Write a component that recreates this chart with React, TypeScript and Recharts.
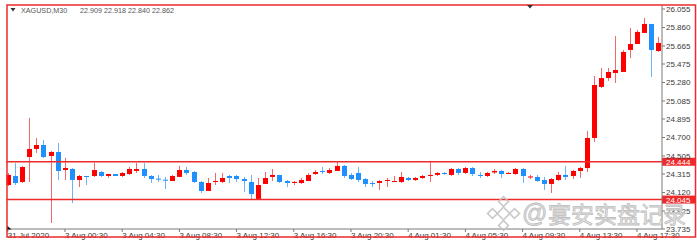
import { ComposedChart, Bar, XAxis, YAxis, ReferenceLine } from 'recharts'

// XAGUSD M30 candles, 31 Jul 2020 close -> 4 Aug 17:30
const OPEN = [
  24.199, 24.294, 24.231, 24.494, 24.579, 24.621, 24.505, 24.547, 24.357, 24.368,
  24.252, 24.294, 24.294, 24.336, 24.294, 24.315, 24.294, 24.315, 24.347, 24.368,
  24.294, 24.266, 24.255, 24.241, 24.284, 24.357, 24.336, 24.231, 24.136, 24.231,
  24.231, 24.294, 24.294, 24.262, 24.231, 24.052, 24.210, 24.284, 24.305, 24.241,
  24.226, 24.220, 24.241, 24.315, 24.347, 24.326, 24.347, 24.400, 24.305, 24.326,
  24.262, 24.220, 24.220, 24.241, 24.236, 24.231, 24.273, 24.252, 24.273, 24.294,
  24.305, 24.326, 24.305, 24.368, 24.326, 24.378, 24.305, 24.294, 24.331, 24.347,
  24.321, 24.315, 24.368, 24.284, 24.284, 24.252, 24.210, 24.252, 24.305, 24.294,
  24.347, 24.378, 24.695, 25.233, 25.327, 25.380, 25.391, 25.623, 25.686, 25.802,
  25.897, 25.612,
]
const HIGH = [
  24.326, 24.431, 24.400, 24.906, 24.695, 24.674, 24.558, 24.642, 24.484, 24.378,
  24.305, 24.294, 24.431, 24.347, 24.315, 24.315, 24.336, 24.389, 24.431, 24.431,
  24.305, 24.305, 24.284, 24.305, 24.400, 24.389, 24.347, 24.241, 24.273, 24.326,
  24.326, 24.305, 24.305, 24.284, 24.305, 24.273, 24.336, 24.368, 24.305, 24.252,
  24.241, 24.273, 24.326, 24.357, 24.389, 24.378, 24.452, 24.410, 24.326, 24.389,
  24.273, 24.241, 24.252, 24.273, 24.294, 24.336, 24.284, 24.284, 24.305, 24.442,
  24.336, 24.336, 24.378, 24.378, 24.389, 24.389, 24.336, 24.336, 24.368, 24.357,
  24.336, 24.378, 24.378, 24.305, 24.305, 24.284, 24.273, 24.336, 24.400, 24.357,
  24.389, 24.769, 25.349, 25.433, 25.433, 25.770, 25.623, 25.855, 25.834, 25.960,
  25.897, 25.760,
]
const LOW = [
  24.189, 24.199, 24.220, 24.231, 24.537, 24.484, 23.798, 24.252, 24.252, 24.009,
  24.178, 24.199, 24.284, 24.284, 24.273, 24.294, 24.284, 24.305, 24.326, 24.273,
  24.220, 24.231, 24.157, 24.241, 24.284, 24.305, 24.220, 24.115, 24.136, 24.199,
  24.220, 24.220, 24.231, 24.125, 24.041, 24.041, 24.210, 24.241, 24.220, 24.178,
  24.199, 24.210, 24.241, 24.305, 24.315, 24.315, 24.347, 24.273, 24.252, 24.231,
  24.178, 24.178, 24.146, 24.178, 24.231, 24.220, 24.241, 24.241, 24.262, 24.231,
  24.294, 24.305, 24.294, 24.305, 24.315, 24.294, 24.273, 24.284, 24.315, 24.273,
  24.315, 24.305, 24.220, 24.262, 24.231, 24.146, 24.115, 24.241, 24.252, 24.262,
  24.273, 24.336, 24.653, 25.222, 25.296, 25.275, 25.391, 25.538, 25.686, 25.802,
  25.338, 25.602,
]
const CLOSE = [
  24.305, 24.220, 24.389, 24.579, 24.621, 24.494, 24.547, 24.347, 24.378, 24.252,
  24.294, 24.284, 24.357, 24.294, 24.315, 24.294, 24.326, 24.368, 24.368, 24.294,
  24.262, 24.260, 24.250, 24.294, 24.357, 24.326, 24.231, 24.136, 24.220, 24.241,
  24.273, 24.273, 24.262, 24.241, 24.104, 24.199, 24.273, 24.305, 24.231, 24.220,
  24.231, 24.252, 24.305, 24.336, 24.336, 24.357, 24.400, 24.294, 24.262, 24.252,
  24.210, 24.215, 24.241, 24.252, 24.241, 24.284, 24.252, 24.273, 24.294, 24.305,
  24.326, 24.315, 24.368, 24.326, 24.378, 24.315, 24.300, 24.326, 24.347, 24.315,
  24.326, 24.368, 24.294, 24.289, 24.241, 24.210, 24.262, 24.305, 24.284, 24.347,
  24.378, 24.695, 25.254, 25.327, 25.391, 25.412, 25.602, 25.686, 25.813, 25.897,
  25.623, 25.697,
]

const TIME_TICKS = [0, 8, 16, 24, 32, 40, 48, 56, 64, 72, 80, 88]
const TIME_LABELS = [
  '31 Jul 2020', '3 Aug 00:30', '3 Aug 04:30', '3 Aug 08:30', '3 Aug 12:30', '3 Aug 16:30',
  '3 Aug 20:30', '4 Aug 01:30', '4 Aug 05:30', '4 Aug 09:30', '4 Aug 13:30', '4 Aug 17:30',
]
const PRICE_TICKS = [
  23.735, 23.925, 24.120, 24.315, 24.505, 24.700, 24.895, 25.085, 25.280, 25.475, 25.665, 25.860, 26.055,
]
const LEVELS = [24.444, 24.045]

const UP = '#ff0000'
const DOWN = '#1e90ff'
const UP_WICK = '#f06a6a'
const DOWN_WICK = '#6db4f6'
const FRAME = '#ee2a2a'
const AXIS = '#7a7a7a'
const TXT = '#3a3a3a'
const FONT = '"Liberation Sans", Arial, sans-serif'

const data = OPEN.map((o, i) => ({ idx: i, open: o, high: HIGH[i], low: LOW[i], close: CLOSE[i] }))

function Candle(props: any) {
  const { x, y, width, height, payload } = props
  const { open, close, high, low } = payload
  const top = Math.min(y, y + height)
  const bot = Math.max(y, y + height)
  const k = (bot - top) / (high - low)
  const yOf = (v: number) => top + (high - v) * k
  const cx = Math.round(x + width / 2) + 0.5
  const up = close >= open
  const bTop = yOf(Math.max(open, close))
  const bBot = yOf(Math.min(open, close))
  return (
    <g>
      <line x1={cx} x2={cx} y1={top} y2={bot} stroke={up ? UP_WICK : DOWN_WICK} strokeWidth={1} />
      <rect x={cx - 2.5} y={bTop} width={5} height={Math.max(1, bBot - bTop)} fill={up ? UP : DOWN} />
    </g>
  )
}

function TimeTick({ x, y, payload }: any) {
  const i = TIME_TICKS.indexOf(payload.value)
  return (
    <text x={x} y={y + 5.5} fontSize={8} fontFamily={FONT} fill={TXT} textAnchor="start">
      {TIME_LABELS[i]}
    </text>
  )
}

function LevelTag({ viewBox, value }: any) {
  const { x, y, width } = viewBox
  const left = x + width
  return (
    <g>
      <rect x={left} y={y - 4} width={33} height={8} fill={FRAME} />
      <text x={left + 4} y={y + 3} fontSize={8} fontFamily={FONT} fill="#fff">{value.toFixed(3)}</text>
    </g>
  )
}

export default function App() {
  return (
    <div style={{ position: 'absolute', left: 0, top: 0, width: 697, height: 242, background: '#fff' }}>
      <ComposedChart width={697} height={242} data={data} margin={{ top: 5, right: 0, bottom: 0, left: 4.2 }}>
        <XAxis dataKey="idx" type="category" ticks={TIME_TICKS} interval={0} height={13}
          tick={<TimeTick />} tickSize={3} tickMargin={0}
          tickLine={{ stroke: AXIS }} axisLine={{ stroke: AXIS }} />
        <YAxis orientation="right" type="number" domain={[23.735, 26.097]} allowDataOverflow
          ticks={PRICE_TICKS} interval={0} width={35} tickSize={3} tickMargin={1}
          tickFormatter={(v: number) => v.toFixed(3)}
          tick={{ fontSize: 8, fontFamily: FONT, fill: TXT }}
          tickLine={{ stroke: AXIS }} axisLine={{ stroke: AXIS }} />
        {LEVELS.map((lv) => (
          <ReferenceLine key={lv} y={lv} stroke={FRAME} strokeWidth={1.5}
            label={(p: any) => <LevelTag {...p} value={lv} />} />
        ))}
        <Bar dataKey={(d: any) => [d.low, d.high]} barSize={5} shape={<Candle />} isAnimationActive={false} />
      </ComposedChart>
      <svg width={697} height={242} style={{ position: 'absolute', left: 0, top: 0, pointerEvents: 'none' }}>
        <rect x={0} y={0} width={6.5} height={242} fill="#fff" />
        <rect x={7} y={5} width={688.5} height={232} fill="none" stroke={FRAME} strokeWidth={1.5} />
        <path d="M10.5 8 L15.5 8 L13 11.5 Z" fill="#333" />
        <text x={21} y={12.5} fontSize={7.2} fontFamily={FONT} fill="#555">XAGUSD,M30</text>
        <text x={80} y={12.5} fontSize={7.2} fontFamily={FONT} fill="#555">22.909 22.918 22.840 22.862</text>
        <path d="M527 5 L533 5 L530 8.5 Z" fill="#333" />
        <path d="M7.5 226 L7.5 229.5 L11.5 229.5 Z" fill="#111" />
        <g fill="none" stroke="#c4c4c4" strokeWidth={1.6} opacity={0.9}>
          <rect x={499} y={209} width={9} height={9} transform="rotate(45 503.5 213.5)" />
          <rect x={500} y={198} width={7} height={7} transform="rotate(45 503.5 201.5)" />
          <rect x={500} y={222} width={7} height={7} transform="rotate(45 503.5 225.5)" />
          <rect x={489} y={210} width={7} height={7} transform="rotate(45 492.5 213.5)" />
          <rect x={511} y={210} width={7} height={7} transform="rotate(45 514.5 213.5)" />
        </g>
        <text x={522} y={222} fontSize={25} fontFamily={FONT} fill="#e4e4e4" stroke="#bdbdbd" strokeWidth={0.8}>@</text>
        <text x={548} y={223} fontSize={23} fontFamily='"Noto Sans CJK SC", sans-serif' fill="#e6e6e6"
          stroke="#bdbdbd" strokeWidth={0.8} opacity={0.95}>宴安实盘记录</text>
      </svg>
    </div>
  )
}
